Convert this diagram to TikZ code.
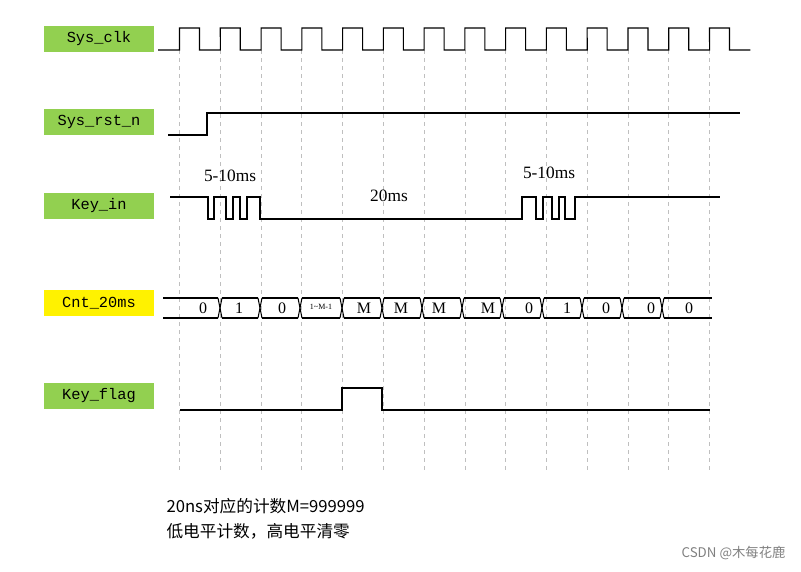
\documentclass[tikz,border=0pt]{standalone}
\usepackage{fontspec}
\setmainfont{Liberation Serif}
\newfontfamily\cjk{Noto Sans CJK SC}
\newfontfamily\lblfont{Liberation Mono}
\begin{document}
\begin{tikzpicture}[x=0.75pt,y=-0.75pt,thick,
  sig/.style={black,line width=0.8pt},
  grid/.style={gray!50,dashed,line width=0.5pt},
  namebox/.style={minimum width=82.5pt,minimum height=19.5pt,inner sep=0pt,font=\lblfont\fontsize{11.5}{12}\selectfont},
  val/.style={font=\fontsize{12}{12}\selectfont,inner sep=0pt},
  lab/.style={font=\fontsize{13}{14}\selectfont}]
  \useasboundingbox (0,0) rectangle (801,572);
  \definecolor{boxgreen}{RGB}{146,208,80}
  \tikzset{namebox/.append style={fill=boxgreen}}

  % grid lines
  \foreach \i in {0,...,13}
    \draw[grid] ({179.5+40.77*\i},50) -- ({179.5+40.77*\i},470);

  % signal names
  \node[namebox] (clk)  at (99,39)  {Sys\_clk};
  \node[namebox] (rst)  at (99,122) {Sys\_rst\_n};
  \node[namebox] (key)  at (99,206) {Key\_in};
  \node[namebox,fill=yellow] (cnt) at (99,303) {Cnt\_20ms};
  \node[namebox] (flag) at (99,396) {Key\_flag};

  % clock
  \draw[sig] (158,50) -- (179.5,50)
    \foreach \i in {0,...,13} {
      -- ({179.5+40.77*\i},28) -- ({199.5+40.77*\i},28) -- ({199.5+40.77*\i},50) -- ({220.3+40.77*\i},50)
    } -- (750,50);

  % reset
  \draw[sig] (168,135) -- (207,135) -- (207,113) -- (740,113);

  % key input
  \draw[sig] (170,197) -- (208,197) -- (208,219) -- (214,219) -- (214,197) -- (226,197)
    -- (226,219) -- (233,219) -- (233,197) -- (240,197) -- (240,219) -- (247,219)
    -- (247,197) -- (260,197) -- (260,219) -- (522,219) -- (522,197) -- (536,197)
    -- (536,219) -- (543,219) -- (543,197) -- (552,197) -- (552,219) -- (559,219)
    -- (559,197) -- (565,197) -- (565,219) -- (575,219) -- (575,197) -- (720,197);
  \node[lab] (k1) at (230,176) {5-10ms};
  \node[lab] (k2) at (389,196) {20ms};
  \node[lab] (k3) at (549,173) {5-10ms};

  % counter bus
  \draw[sig] (163,298) -- (218,298);
  \draw[sig] (163,318) -- (218,318);
  \foreach \x in {220,260,300,342,382,422,462,502,542,582,622,662} {
    \draw[sig] (\x-2,298) -- (\x+2,318);
    \draw[sig] (\x-2,318) -- (\x+2,298);
  }
  \foreach \a/\b in {220/260,260/300,300/342,342/382,382/422,422/462,462/502,502/542,542/582,582/622,622/662} {
    \draw[sig] (\a+2,298) -- (\b-2,298);
    \draw[sig] (\a+2,318) -- (\b-2,318);
  }
  \draw[sig] (664,298) -- (712,298);
  \draw[sig] (664,318) -- (712,318);
  \foreach \x/\t in {203/0,239/1,282/0,364/M,401/M,439/M,488/M,529/0,567/1,606/0,651/0,689/0}
    \node[val] at (\x,308) {\t};
  \node[val,font=\fontsize{6}{6}\selectfont] at (321,307) {1\textasciitilde M-1};

  % flag
  \draw[sig] (180,410) -- (342,410) -- (342,388) -- (382,388) -- (382,410) -- (710,410);

  % notes
  \node[anchor=west,inner sep=0pt,font=\cjk\fontsize{12.5}{14}\selectfont] (n1) at (166,506) {20ns对应的计数M=999999};
  \node[anchor=west,inner sep=0pt,font=\cjk\fontsize{12.5}{14}\selectfont] (n2) at (166,531) {低电平计数，高电平清零};
  \node[anchor=east,inner sep=0pt,text=gray,font=\cjk\fontsize{10}{11}\selectfont] (wm) at (786,553) {CSDN @木每花鹿};
\end{tikzpicture}
\end{document}
